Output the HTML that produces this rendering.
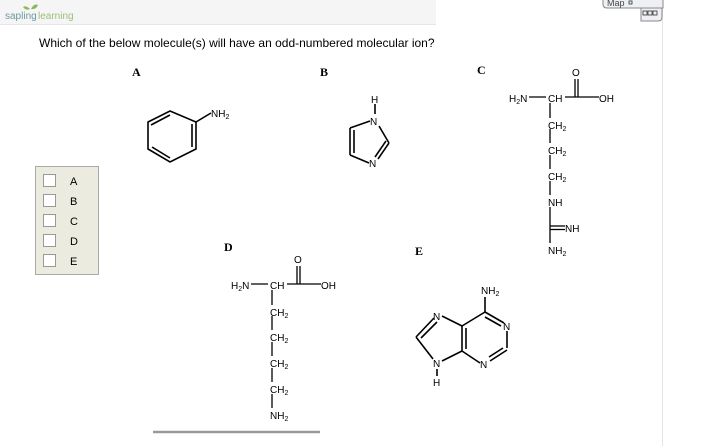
<!DOCTYPE html>
<html><head><style>
body{margin:0;width:724px;height:446px;background:#fff;overflow:hidden;position:relative;font-family:"Liberation Sans",sans-serif}
svg{position:absolute;left:0;top:0}
</style></head><body>
<svg width="724" height="446" xmlns="http://www.w3.org/2000/svg" font-family="Liberation Sans, sans-serif">
<rect x="0" y="0" width="436" height="24" fill="#f5f5f5"/>
<line x1="0" y1="24.5" x2="436" y2="24.5" stroke="#e6e6e6"/>
<text x="5" y="19" font-size="10" fill="#6a9aa0">sapling</text>
<text x="38" y="19" font-size="10" fill="#9bbf7a">learning</text>
<path d="M30 9 q-4 -4 -7 -2 q3 4 7 2 M31 9 q3 -6 7 -4 q-2 5 -7 4" fill="#8cb85c"/>
<line x1="662.5" y1="0" x2="662.5" y2="446" stroke="#e4e4e4"/>
<path d="M603 0 v4 q0 4 4 4 h56 v-8" fill="#eef0f3" stroke="#888"/>
<text x="607" y="6" font-size="9" fill="#444">Map</text>
<path d="M641 8 h21 v9 q0 4 -4 4 h-17z" fill="#eef0f3" stroke="#888"/>
<g stroke="#333" fill="none" stroke-width="0.8"><rect x="643" y="11" width="4" height="4"/><rect x="648" y="11" width="4" height="4"/><rect x="653" y="11" width="4" height="4"/><rect x="629" y="1" width="3" height="3"/></g>
<text x="39" y="47" font-size="12" fill="#000">Which of the below molecule(s) will have an odd-numbered molecular ion?</text>

<g font-family="Liberation Serif, serif" font-weight="bold" font-size="12">
<text x="132" y="76">A</text><text x="320" y="76">B</text><text x="477" y="74">C</text><text x="224" y="251">D</text><text x="415" y="255">E</text></g>

<rect x="35.5" y="166.5" width="63" height="108" fill="#ecebe0" stroke="#aaa"/>
<g fill="#fff" stroke="#999">
<rect x="43.5" y="174.5" width="12" height="12"/><rect x="43.5" y="194.5" width="12" height="12"/><rect x="43.5" y="214.5" width="12" height="12"/><rect x="43.5" y="234.5" width="12" height="12"/><rect x="43.5" y="254.5" width="12" height="12"/></g>
<g font-size="11" fill="#000"><text x="70" y="185">A</text><text x="70" y="205">B</text><text x="70" y="225">C</text><text x="70" y="245">D</text><text x="70" y="265">E</text></g>

<g stroke="#000" stroke-width="1.6" fill="none">
<!-- A -->
<polygon points="170,111 196,122 196,149 170,162 148,149 148,122"/>
<line x1="151" y1="125" x2="170" y2="115"/><line x1="192" y1="124" x2="192" y2="147"/><line x1="152" y1="147" x2="170" y2="158"/>
<line x1="196" y1="122" x2="211" y2="113"/>
<!-- B -->
<line x1="375" y1="104" x2="375" y2="114"/>
<line x1="379" y1="126" x2="389" y2="143"/><line x1="389" y1="143" x2="378" y2="159"/><line x1="386" y1="141" x2="375" y2="157"/>
<line x1="369" y1="163" x2="350" y2="155"/><line x1="350" y1="155" x2="350" y2="128"/><line x1="354" y1="153" x2="354" y2="130"/>
<line x1="350" y1="128" x2="370" y2="121"/>
<!-- E -->
<line x1="485" y1="297" x2="485" y2="312"/>
<line x1="485" y1="312" x2="504" y2="323"/><line x1="485" y1="317" x2="501" y2="326"/>
<line x1="507" y1="331" x2="507" y2="348"/>
<line x1="507" y1="350" x2="490" y2="361"/><line x1="503" y1="348" x2="489" y2="357"/>
<line x1="480" y1="363" x2="462" y2="351"/>
<line x1="462" y1="351" x2="462" y2="326"/><line x1="466" y1="349" x2="466" y2="328"/>
<line x1="462" y1="326" x2="485" y2="312"/>
<line x1="462" y1="326" x2="442" y2="316"/>
<line x1="434" y1="318" x2="416" y2="337"/><line x1="437" y1="322" x2="421" y2="338"/>
<line x1="416" y1="337" x2="433" y2="359"/>
<line x1="442" y1="361" x2="462" y2="351"/>
<line x1="437" y1="369" x2="437" y2="376"/>
</g>
<g font-size="10" fill="#000">
<text x="211" y="117">NH<tspan font-size="7" dy="2">2</tspan></text>
<text x="371" y="103">H</text><text x="370" y="125">N</text><text x="369" y="167">N</text>
<text x="481" y="294">NH<tspan font-size="7" dy="2">2</tspan></text>
<text x="503" y="330">N</text><text x="480" y="368">N</text><text x="433" y="320">N</text><text x="433" y="367">N</text><text x="433" y="386">H</text>
</g>

<!-- D -->
<g id="aa">
<g stroke="#000" stroke-width="1.3">
<line x1="251" y1="284" x2="268" y2="284"/><line x1="287" y1="284" x2="321" y2="284"/>
<line x1="297" y1="266" x2="297" y2="284"/><line x1="300" y1="266" x2="300" y2="284"/>
<line x1="272" y1="290" x2="272" y2="305"/><line x1="272" y1="316" x2="272" y2="330"/><line x1="272" y1="342" x2="272" y2="356"/>
</g>
<g font-size="10" fill="#000">
<text x="231" y="289">H<tspan font-size="7" dy="2">2</tspan><tspan dy="-2">N</tspan></text>
<text x="270" y="289">CH</text><text x="294" y="263">O</text><text x="321" y="289">OH</text>
<text x="270" y="316">CH<tspan font-size="7" dy="2">2</tspan></text>
<text x="270" y="341">CH<tspan font-size="7" dy="2">2</tspan></text>
<text x="270" y="367">CH<tspan font-size="7" dy="2">2</tspan></text>
</g>
</g>
<g stroke="#000" stroke-width="1.3"><line x1="272" y1="368" x2="272" y2="382"/><line x1="272" y1="394" x2="272" y2="408"/></g>
<g font-size="10" fill="#000"><text x="270" y="393">CH<tspan font-size="7" dy="2">2</tspan></text><text x="270" y="419">NH<tspan font-size="7" dy="2">2</tspan></text></g>

<!-- C -->
<use href="#aa" transform="translate(278,-187)"/>
<g stroke="#000" stroke-width="1.3"><line x1="550" y1="181" x2="550" y2="195"/><line x1="550" y1="207" x2="550" y2="243"/>
<line x1="550" y1="226" x2="565" y2="226"/><line x1="550" y1="229.5" x2="565" y2="229.5"/></g>
<g font-size="10" fill="#000"><text x="548" y="206">NH</text><text x="565" y="232">NH</text><text x="548" y="254">NH<tspan font-size="7" dy="2">2</tspan></text></g>

<line x1="153" y1="432" x2="320" y2="432" stroke="#999" stroke-width="2.5"/>
</svg>
</body></html>
